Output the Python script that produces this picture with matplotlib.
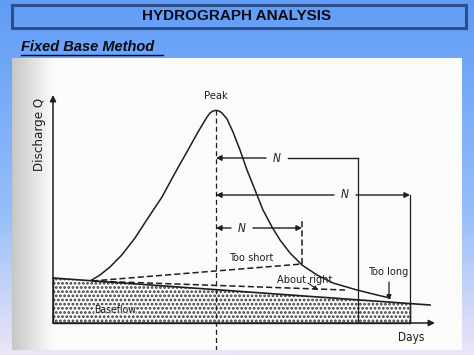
import numpy as np
import matplotlib
matplotlib.use("Agg")
import matplotlib.pyplot as plt
from matplotlib.patches import Rectangle, Polygon

# hydrograph (t in days, Q in arbitrary units)
hydro_t = [1.94, 2.35, 2.85, 3.44, 4.1, 4.75, 5.45, 6.1, 6.75, 7.25, 7.7, 7.85, 8.0, 8.15, 8.3, 8.45, 8.7, 9.0,
           9.35, 9.7, 10.1, 10.5, 10.95, 11.35, 11.85, 12.45, 13.2, 14.0, 15.2, 16.2, 16.85]
hydro_q = [2.15, 2.4, 2.8, 3.4, 4.25, 5.25, 6.3, 7.5, 8.65, 9.55, 10.3, 10.5, 10.6, 10.63, 10.6, 10.5, 10.2, 9.55,
           8.65, 7.65, 6.65, 5.65, 4.8, 4.15, 3.5, 2.9, 2.4, 2.0, 1.65, 1.4, 1.25]

base_t = [0.0, 18.85]
base_q = [2.25, 0.9]
stipple_end = 17.85

peak_t, peak_q = 8.15, 10.63
short_t = [1.95, 12.45]
short_q = [2.1, 2.95]
right_t = [1.95, 14.6]
right_q = [2.1, 1.65]

n_levels = [8.25, 6.4, 4.75]        # heights of the three N arrows
n_ends = [15.25, 17.85, 12.45]      # where each N interval ends
n_label_t = [11.2, 14.6, 9.45]

W, H = 474, 355
plt.rcParams['hatch.linewidth'] = 1.3
fig = plt.figure(figsize=(W / 100, H / 100), dpi=100)

# slide background gradient
bg = fig.add_axes([0, 0, 1, 1])
bg.set_axis_off()
top = np.array([96, 156, 246]) / 255
mid = np.array([150, 190, 250]) / 255
bot = np.array([238, 228, 248]) / 255
yy = np.linspace(0, 1, 256)[:, None]
grad = np.where(yy < 0.6, top + (mid - top) * (yy / 0.6), mid + (bot - mid) * ((yy - 0.6) / 0.4))
bg.imshow(grad.reshape(256, 1, 3), aspect="auto", extent=[0, 1, 0, 1], origin="upper")
bg.set_xlim(0, 1)
bg.set_ylim(0, 1)

# title box
bg.add_patch(Rectangle((12 / W, 1 - 28 / H), 454 / W, 23 / H, fill=False,
                       edgecolor="#2c4f8a", lw=2.2))
bg.text(237 / W, 1 - 16.5 / H, "HYDROGRAPH ANALYSIS", ha="center", va="center",
        fontsize=11, fontweight="bold", family="Liberation Sans", color="#0a0a14")
bg.text(21 / W, 1 - 47 / H, "Fixed Base Method", ha="left", va="center",
        fontsize=10.5, fontweight="bold", style="italic", family="Liberation Sans", color="#0a0a14")
bg.plot([21 / W, 163 / W], [1 - 54.5 / H, 1 - 54.5 / H], color="#0a0a14", lw=1)
bg.text(442 / W, 1 - 332 / H, "14", ha="left", va="center", fontsize=5, color="#8090a0")

# scanned figure area
ax = fig.add_axes([12 / W, 5 / H, 450 / W, 292 / H])
ax.set_xlim(-2.05, 20.45)
ax.set_ylim(-1.35, 13.25)
ax.set_axis_off()
ax.add_patch(Rectangle((0, 0), 1, 1, transform=ax.transAxes, facecolor="#fbfbfa", edgecolor="none", zorder=0))
shade = np.linspace(0.78, 0.985, 64)[None, :]
ax.imshow(np.dstack([shade, shade, shade * 0.995]), extent=[-2.05, 0.0, -1.35, 13.25],
          aspect="auto", zorder=0.5)

ink = "#1e1e1e"
txt = dict(family="DejaVu Sans", stretch="condensed", color=ink)

# axes arrows
ax.annotate("", xy=(0, 11.4), xytext=(0, 0),
            arrowprops=dict(arrowstyle="-|>", color=ink, lw=1.1, mutation_scale=9, shrinkA=0, shrinkB=0))
ax.annotate("", xy=(19.1, 0), xytext=(0, 0),
            arrowprops=dict(arrowstyle="-|>", color=ink, lw=1.1, mutation_scale=9, shrinkA=0, shrinkB=0))
ax.text(-0.65, 9.45, "Discharge Q", rotation=90, ha="center", va="center", fontsize=9.5, **txt)
ax.text(17.9, -0.75, "Days", ha="center", va="center", fontsize=8.5, **txt)

# baseflow stipple
bq_end = base_q[0] + (base_q[1] - base_q[0]) * stipple_end / base_t[1]
ax.add_patch(Polygon([(0, 0), (0, base_q[0]), (stipple_end, bq_end), (stipple_end, 0)],
                     closed=True, facecolor="none", edgecolor="#3a3a3a", hatch="....", lw=0))
ax.plot([0, 0, stipple_end, stipple_end], [base_q[0], 0, 0, bq_end], color=ink, lw=1.0)
ax.plot(base_t, base_q, color=ink, lw=1.2)
ax.text(3.1, 0.65, "Baseflow", ha="center", va="center", fontsize=7.5,
        bbox=dict(facecolor="#fbfbfa", edgecolor="none", pad=0.3, alpha=0.6), **txt)

# hydrograph
ax.plot(hydro_t, hydro_q, color=ink, lw=1.1, solid_joinstyle="round")
ax.text(peak_t, 11.35, "Peak", ha="center", va="center", fontsize=8, **txt)
ax.plot([peak_t, peak_t], [peak_q, -1.35], color=ink, lw=0.9, ls=(0, (4, 2.5)))

# separation lines
ax.plot(short_t, short_q, color=ink, lw=1.1, ls=(0, (4, 2)))
ax.plot([short_t[1], short_t[1]], [short_q[1], 5.25], color=ink, lw=1.1, ls=(0, (4, 2)))
ax.plot(right_t, right_q, color=ink, lw=1.1, ls=(0, (4, 2)))
ax.text(9.9, 3.25, "Too short", ha="center", va="center", fontsize=7.8, **txt)
ax.text(12.6, 2.15, "About right", ha="center", va="center", fontsize=7.8, **txt)
ax.annotate("", xy=(13.25, 1.65), xytext=(12.75, 2.0),
            arrowprops=dict(arrowstyle="-|>", color=ink, lw=0.8, mutation_scale=6, shrinkA=0, shrinkB=0))
ax.text(16.75, 2.55, "Too long", ha="center", va="center", fontsize=7.8, **txt)
ax.annotate("", xy=(16.8, 1.15), xytext=(16.8, 2.05),
            arrowprops=dict(arrowstyle="-|>", color=ink, lw=0.9, mutation_scale=7, shrinkA=0, shrinkB=0))

# N intervals
for i, (lv, end, lt) in enumerate(zip(n_levels, n_ends, n_label_t)):
    gap = 0.55
    ax.annotate("", xy=(peak_t, lv), xytext=(lt - gap, lv),
                arrowprops=dict(arrowstyle="-|>", color=ink, lw=1.0, mutation_scale=8, shrinkA=0, shrinkB=0))
    if i == 0:
        ax.plot([lt + gap, end], [lv, lv], color=ink, lw=1.0)
    else:
        ax.annotate("", xy=(end, lv), xytext=(lt + gap, lv),
                    arrowprops=dict(arrowstyle="-|>", color=ink, lw=1.0, mutation_scale=8, shrinkA=0, shrinkB=0))
    ax.text(lt, lv, "N", ha="center", va="center", fontsize=8.5, style="italic", **txt)
    if i < 2:
        ax.plot([end, end], [lv, 0], color=ink, lw=0.9)

fig.savefig("out.png", dpi=100)
